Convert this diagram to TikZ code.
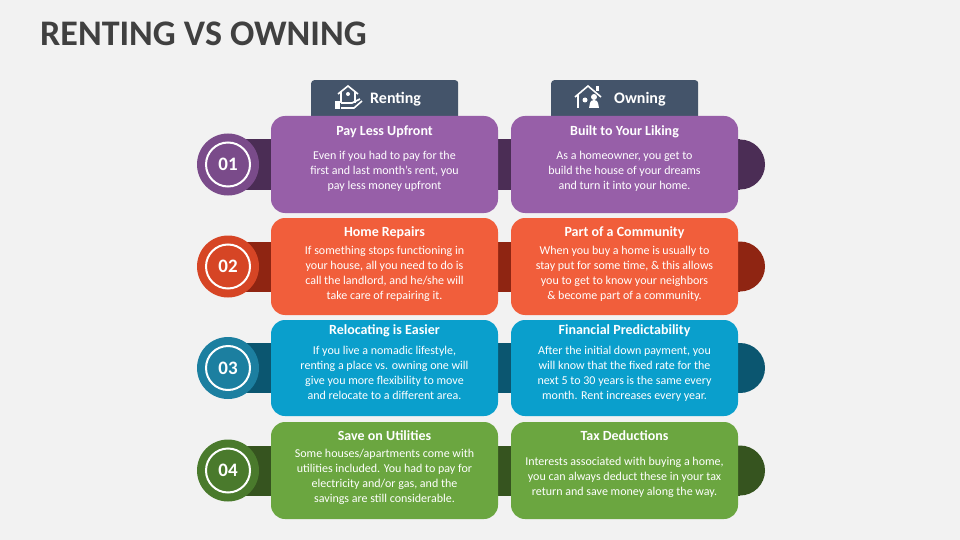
\documentclass[tikz,border=0pt]{standalone}
\usepackage{fontspec}
\setmainfont{Carlito}
\definecolor{bg}{HTML}{F2F2F2}
\definecolor{hdr}{HTML}{44546A}
\definecolor{pA}{HTML}{975FA8}\definecolor{pB}{HTML}{4B2D55}\definecolor{pC}{HTML}{7A4B8A}
\definecolor{oA}{HTML}{F15E3B}\definecolor{oB}{HTML}{8F2512}\definecolor{oC}{HTML}{D64525}
\definecolor{bA}{HTML}{0A9FCC}\definecolor{bB}{HTML}{0B5670}\definecolor{bC}{HTML}{1C7FA0}
\definecolor{gA}{HTML}{6BA640}\definecolor{gB}{HTML}{36541F}\definecolor{gC}{HTML}{4A7A2C}
\begin{document}
\begin{tikzpicture}[x=1pt,y=-1pt,
 ttl/.style={text=white,font=\bfseries\fontsize{14}{16}\selectfont,anchor=north},
 body/.style={text=white,font=\fontsize{12}{14.8}\selectfont,align=center,anchor=north},
 tab/.style={fill=hdr,rounded corners=3pt,minimum width=147pt,minimum height=40pt,anchor=north west,inner sep=0pt},
 num/.style={circle,draw=white,line width=2pt,minimum size=44pt,text=white,font=\bfseries\fontsize{19}{19}\selectfont}]
\fill[bg] (0,0) rectangle (960,540);
\node[anchor=west,text=black!75,font=\bfseries\fontsize{36}{36}\selectfont,inner sep=0pt] (title) at (40,34) {RENTING VS OWNING};
% tabs
\node[tab] (t1) at (311,80) {};
\node[tab] (t2) at (551,80) {};
\node[text=white,font=\bfseries\fontsize{16}{16}\selectfont,anchor=west,inner sep=0pt] (t1l) at (370,99) {Renting};
\node[text=white,font=\bfseries\fontsize{16}{16}\selectfont,anchor=west,inner sep=0pt] (t2l) at (614,99) {Owning};
% renting icon
\begin{scope}[white,line width=1.6pt]
\draw (338,94) -- (348,86) -- (358,94) (341,92) -- (341,103) (355,92) -- (355,103);
\fill (335,101) rectangle (340,109);
\draw (341,103) -- (352,103) -- (360,99) (341,108) -- (354,108) -- (362,101);
\fill (348,94) circle (2pt);
\end{scope}
% owning icon
\begin{scope}[white,line width=1.6pt]
\draw (575,97) -- (588,86) -- (601,97) (578,95) -- (578,108);
\fill (585,100) circle (2.5pt) (594,97) circle (3pt);
\fill (589,108) -- (590,103) arc (180:0:4pt and 3pt) -- (599,108) -- cycle;
\fill (596,86) rectangle (599,91);
\end{scope}
% rows
\foreach \yt/\yb/\A/\B/\C/\n [count=\i] in {116/213/pA/pB/pC/01,218/315/oA/oB/oC/02,320/416/bA/bB/bC/03,422/519/gA/gB/gC/04}{
 \pgfmathsetmacro{\yc}{(\yt+\yb)/2}
 \fill[\B] (228,\yc-25) rectangle (740,\yc+25);
 \fill[\B] (740,\yc) circle (25);
 \fill[\C] (228,\yc) circle (31);
 \node[num] (n\i) at (228,\yc) {\n};
 \fill[\A,rounded corners=14pt] (271,\yt) rectangle (498,\yb);
 \fill[\A,rounded corners=14pt] (511,\yt) rectangle (738,\yb);
}
\node[ttl] (a1) at (384.5,122) {Pay Less Upfront};
\node[ttl] (c1) at (624.5,122) {Built to Your Liking};
\node[body] (b1) at (384.5,148) {Even if you had to pay for the\\first and last month's rent, you\\pay less money upfront};
\node[body] (d1) at (624.5,148) {As a homeowner, you get to\\build the house of your dreams\\and turn it into your home.};
\node[ttl] (a2) at (384.5,223) {Home Repairs};
\node[ttl] (c2) at (624.5,223) {Part of a Community};
\node[body] (b2) at (384.5,243) {If something stops functioning in\\your house, all you need to do is\\call the landlord, and he/she will\\take care of repairing it.};
\node[body] (d2) at (624.5,243) {When you buy a home is usually to\\stay put for some time, \& this allows\\you to get to know your neighbors\\\& become part of a community.};
\node[ttl] (a3) at (384.5,321) {Relocating is Easier};
\node[ttl] (c3) at (624.5,321) {Financial Predictability};
\node[body] (b3) at (384.5,343) {If you live a nomadic lifestyle,\\renting a place vs. owning one will\\give you more flexibility to move\\and relocate to a different area.};
\node[body] (d3) at (624.5,343) {After the initial down payment, you\\will know that the fixed rate for the\\next 5 to 30 years is the same every\\month. Rent increases every year.};
\node[ttl] (a4) at (384.5,427) {Save on Utilities};
\node[ttl] (c4) at (624.5,427) {Tax Deductions};
\node[body] (b4) at (384.5,446) {Some houses/apartments come with\\utilities included. You had to pay for\\electricity and/or gas, and the\\savings are still considerable.};
\node[body] (d4) at (624.5,454) {Interests associated with buying a home,\\you can always deduct these in your tax\\return and save money along the way.};
\end{tikzpicture}
\end{document}
